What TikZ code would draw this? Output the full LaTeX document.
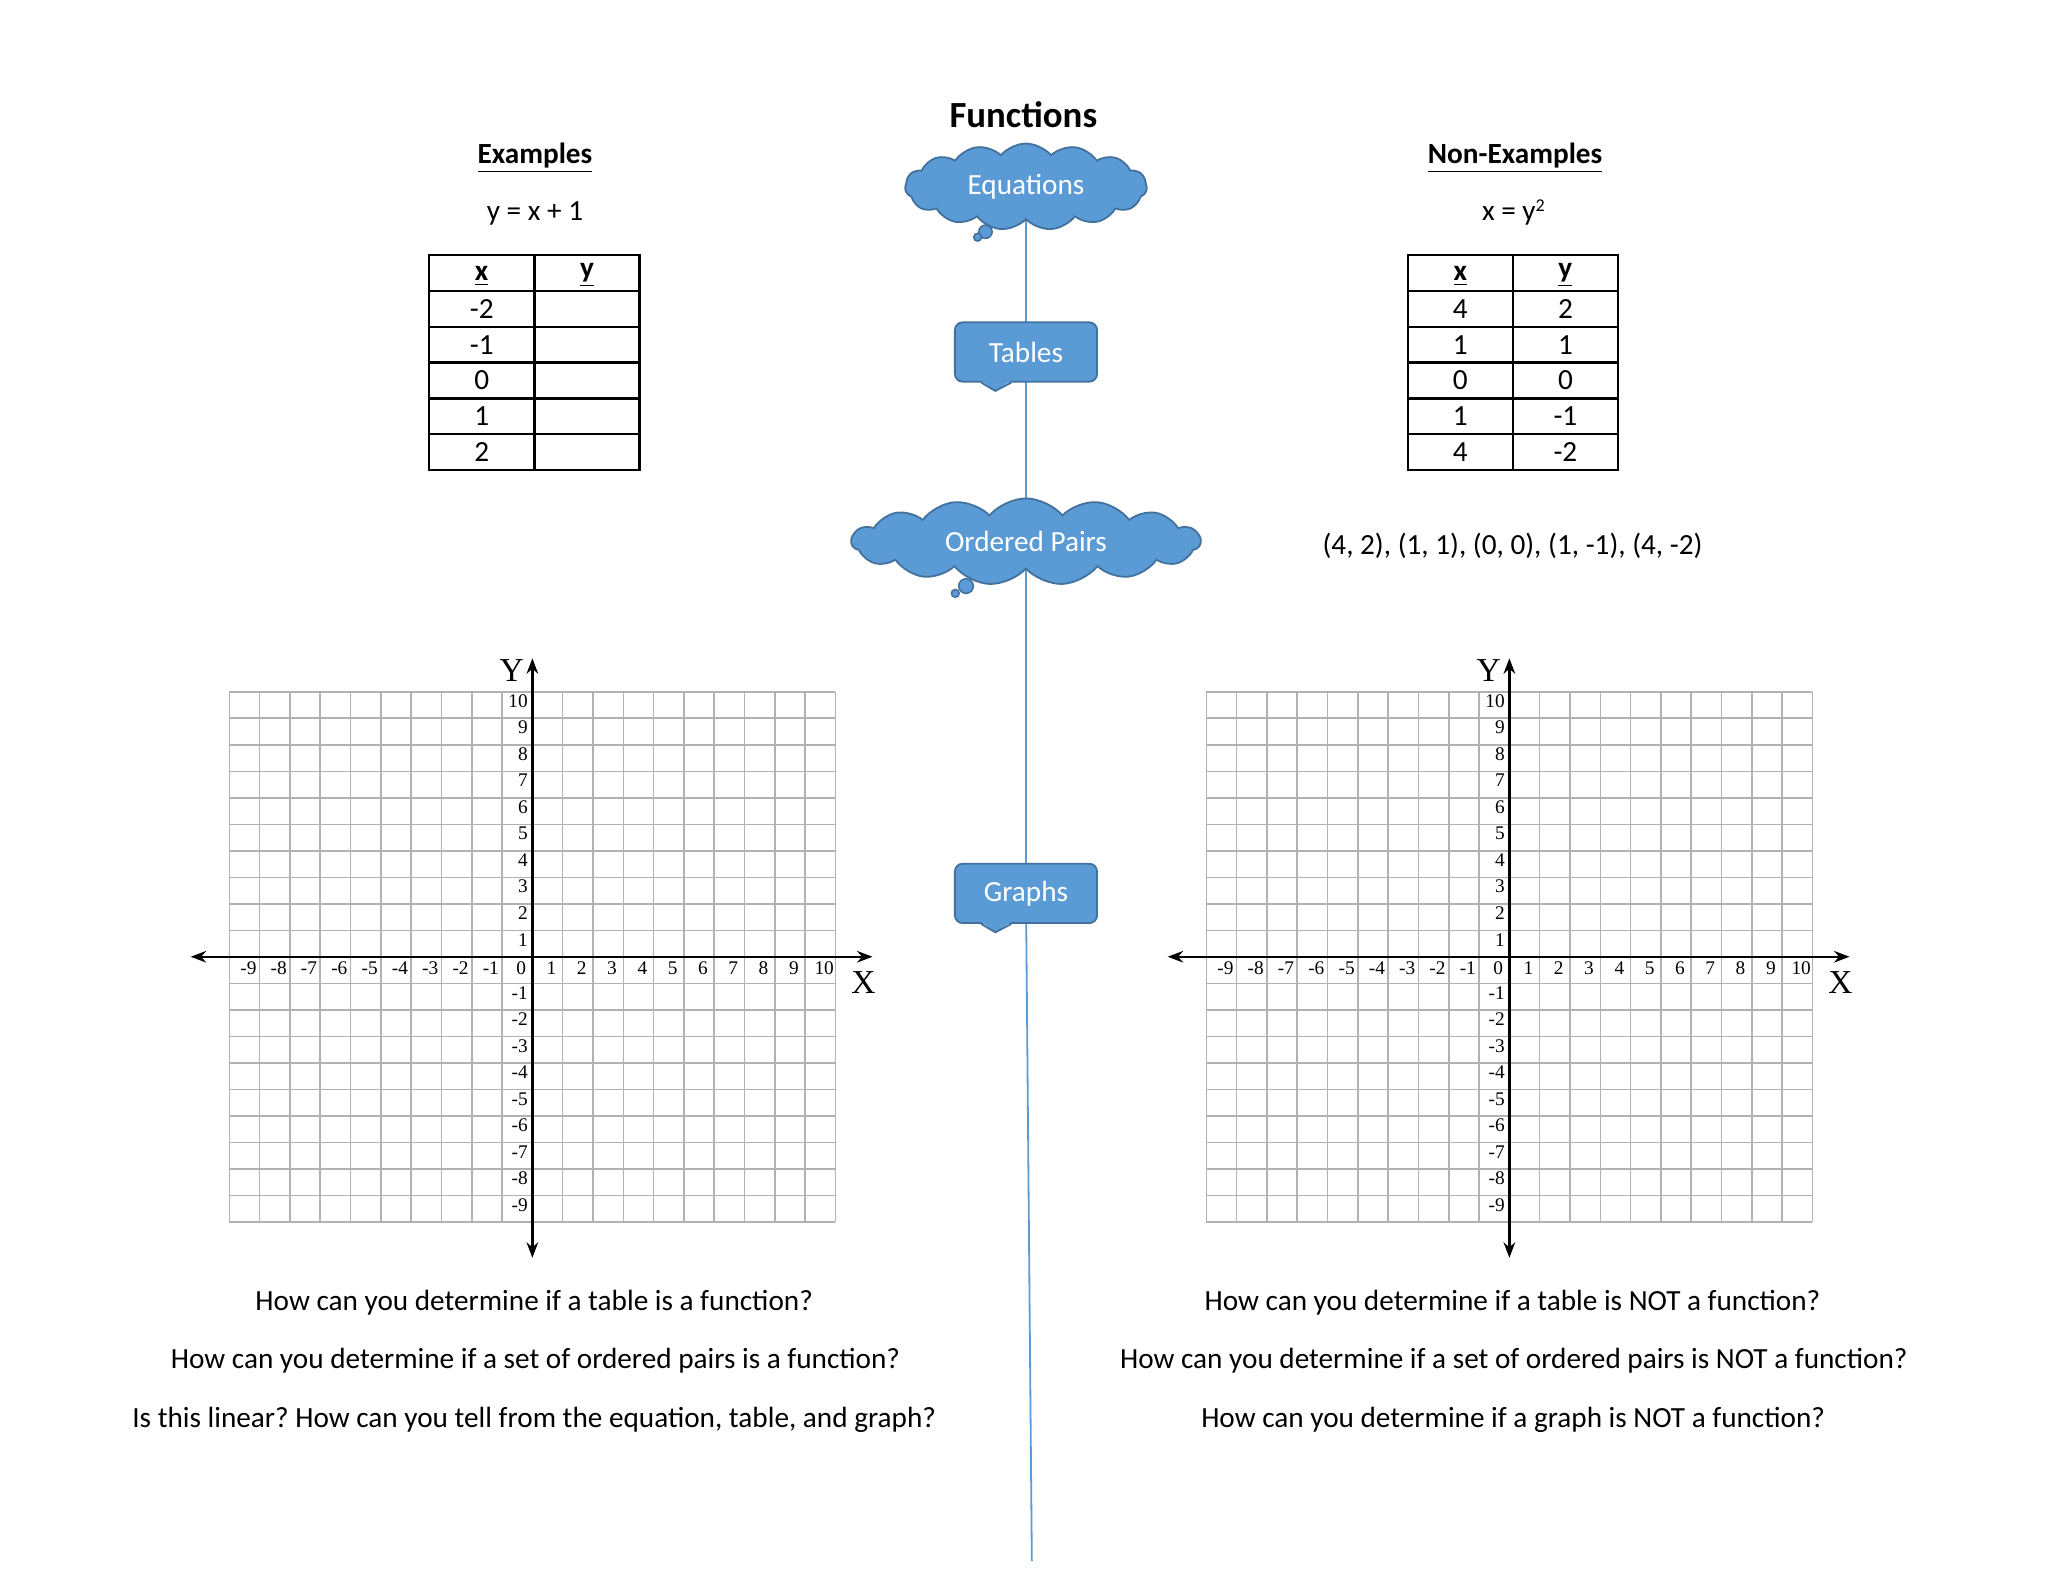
\documentclass[tikz,border=0pt]{standalone}
\usepackage{fontspec}
\setmainfont{Carlito}
\newfontfamily\tnr{Liberation Serif}
\usepackage{xcolor}
\usepackage{tikz}
\usetikzlibrary{arrows.meta,positioning,calc,shapes.symbols,backgrounds}
\definecolor{offblue}{HTML}{5B9BD5}
\definecolor{offedge}{HTML}{41719C}
\frenchspacing

\begin{document}
\begin{tikzpicture}[>=Stealth,x=0.0178189cm,y=-0.0178189cm,
  txt/.style={font=\fontsize{11.35}{13.5}\selectfont,inner sep=0pt},
  hd/.style={font=\fontsize{11.35}{13.5}\selectfont\bfseries,inner sep=0pt},
  cl/.style={cloud,cloud puffs=15,cloud puff arc=100,cloud ignores aspect,draw=offedge,fill=offblue,line width=0.7pt,text=white,font=\fontsize{11.35}{13.5}\selectfont,inner sep=0pt},
  co/.style={rectangle,rounded corners=3pt,draw=offedge,fill=offblue,line width=0.7pt,text=white,font=\fontsize{11.35}{13.5}\selectfont,minimum width=1.94cm,minimum height=0.81cm},
  tip/.style={fill=offblue,draw=offedge,line width=0.6pt},
  spine/.style={offblue,line width=0.7pt},
  tab/.style={line width=0.9pt},
  gl/.style={black!30,line width=0.6pt},
  ax/.style={<->,line width=0.9pt,>={Stealth[length=6pt,width=4.5pt]}},
  nm/.style={font=\tnr\fontsize{7.5}{8}\selectfont,inner sep=0pt},
  axl/.style={font=\tnr\fontsize{13}{14}\selectfont,inner sep=0pt}]
  \useasboundingbox (0,0) rectangle (1568,1211);
  \node[font=\fontsize{14.3}{16}\selectfont\bfseries,inner sep=0pt] (ttl) at (783.5,88) {Functions};
  \node[hd] (exh) at (409.6,121) {\underline{Examples}};
  \node[hd] (neh) at (1160,121) {\underline{Non-Examples}};
  \node[txt,text height=1.6ex,text depth=0.4ex] (exq) at (409.6,163.3) {y = x + 1};
  \node[txt,text height=1.6ex,text depth=0.4ex] (neq) at (1158.7,163.3) {x = y{\fontsize{7}{8}\selectfont\raisebox{1.05ex}{2}}};
  \node[cl,minimum width=3.3cm,minimum height=1.18cm] (eq) at (785.5,143) {Equations};
  \node[co] (tb) at (785.5,269.5) {Tables};
  \node[cl,minimum width=4.76cm,minimum height=1.18cm] (op) at (785.5,414.7) {Ordered Pairs};
  \node[co] (gr) at (785.5,684) {Graphs};
  \coordinate (bot) at (790,1195);
  \begin{scope}[on background layer]
    \draw[spine] (eq.center) -- (tb.center) -- (op.center) -- (gr.center) -- (bot);
  \end{scope}
  \draw[tip] ($(eq.center)+(-31,34.4)$) circle[radius=5.1];
  \draw[tip] ($(eq.center)+(-37,38.6)$) circle[radius=3];
  \draw[tip] ($(op.center)+(-45.9,34)$) circle[radius=5.6];
  \draw[tip] ($(op.center)+(-54.1,39.6)$) circle[radius=3];
  \foreach \n in {tb,gr} {
    \fill[offblue] ($(\n.south west)+(20.9,-1.5)$) -- ($(\n.south west)+(31.6,6.4)$) -- ($(\n.south west)+(43.9,-1.5)$) -- cycle;
    \draw[offedge,line width=0.7pt] ($(\n.south west)+(20.9,0)$) -- ($(\n.south west)+(31.6,6.4)$) -- ($(\n.south west)+(43.9,0)$);
  }
  \foreach \tx in {328.7,1077.8} {
    \draw[tab] (\tx,195.2) rectangle ++(160.8,164.7);
    \draw[tab] ({\tx+80.6},195.2) -- ++(0,164.7);
    \foreach \r in {1,...,5} \draw[tab] (\tx,{195.2+27.45*\r}) -- ++(160.8,0);
  }
  \node[hd] (ahx) at (368.8,211.5) {\underline{x}};
  \node[hd] (ahy) at (449.5,210.5) {\underline{y}};
  \node[hd] (bhx) at (1118,211.5) {\underline{x}};
  \node[hd] (bhy) at (1198.5,210.5) {\underline{y}};
  \foreach \v [count=\r] in {-2,-1,0,1,2}
    \node[txt] (ax\r) at (368.8,{195.2+27.45*(\r+0.5)}) {\v};
  \foreach \u/\v [count=\r] in {4/2,1/1,0/0,1/-1,4/-2} {
    \node[txt] (bx\r) at (1118,{195.2+27.45*(\r+0.5)}) {\u};
    \node[txt] (by\r) at (1198.5,{195.2+27.45*(\r+0.5)}) {\v};
  }
  \node[txt] (pr) at (1158,418) {(4, 2), (1, 1), (0, 0), (1, -1), (4, -2)};
  \foreach \gs/\gn in {0/l,748/r} {
    \begin{scope}[shift={(\gs,0)}]
      \foreach \i in {0,...,20} {
        \draw[gl] ({175.6+23.2*\i},529.6) -- ({175.6+23.2*\i},935.6);
        \draw[gl] (175.6,{529.6+20.3*\i}) -- (639.6,{529.6+20.3*\i});
      }
      \draw[ax] (146,732.5) -- (668,732.5);
      \draw[ax] (407.6,504) -- (407.6,963);
      \node[axl] (Y\gn) at (391.8,513) {Y};
      \node[axl] (X\gn) at (661,752) {X};
      \foreach \v [count=\k] in {-9,...,10}
        \node[nm] (x\gn\k) at ({175.6+23.2*(\v+9.5)+3},741.4) {\v};
      \foreach \v [count=\k] in {-9,...,-1,1,2,...,10}
        \node[nm,anchor=east] (y\gn\k) at (404.4,{529.6+20.3*(10.5-\v)-3}) {\v};
    \end{scope}
  }
  \node[txt] (q1) at (409,997) {How can you determine if a table is a function?};
  \node[txt] (q2) at (410,1042) {How can you determine if a set of ordered pairs is a function?};
  \node[txt] (q3) at (409,1087) {Is this linear? How can you tell from the equation, table, and graph?};
  \node[txt] (n1) at (1158,997) {How can you determine if a table is NOT a function?};
  \node[txt] (n2) at (1159,1042) {How can you determine if a set of ordered pairs is NOT a function?};
  \node[txt] (n3) at (1158.5,1087) {How can you determine if a graph is NOT a function?};
\end{tikzpicture}
\end{document}
